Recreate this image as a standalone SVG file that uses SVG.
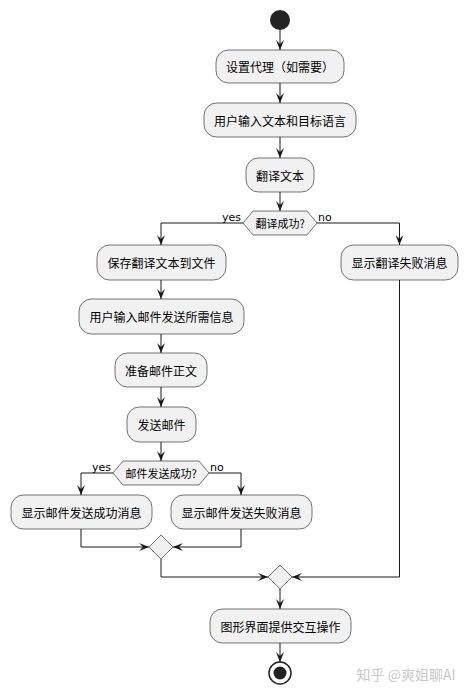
<svg xmlns="http://www.w3.org/2000/svg" width="467" height="695" viewBox="0 0 467 695">
<style>
.n{fill:#F1F1F1;stroke:#181818;stroke-width:0.6}
.t{font-family:"Noto Sans CJK SC","Liberation Sans",sans-serif;font-size:12px;fill:#000;text-anchor:middle;dominant-baseline:central}
.d{font-size:11px}
.l{font-family:"DejaVu Sans","Liberation Sans",sans-serif;font-size:11px;fill:#000}
.e{fill:none;stroke:#181818;stroke-width:1}
</style>
<defs>
<marker id="a" viewBox="0 0 10 8" refX="10" refY="4" markerWidth="10" markerHeight="8" markerUnits="userSpaceOnUse" orient="auto">
<path d="M0,0 L10,4 L0,8 L4,4 Z" fill="#181818"/>
</marker>
</defs>
<rect width="467" height="695" fill="#fff"/>
<g id="edges">
<path class="e" d="M280,30 V50" marker-end="url(#a)"/>
<path class="e" d="M280,83 V103" marker-end="url(#a)"/>
<path class="e" d="M280,137 V158" marker-end="url(#a)"/>
<path class="e" d="M280,192 V211" marker-end="url(#a)"/>
<path class="e" d="M243,223 H161 V245" marker-end="url(#a)"/>
<path class="e" d="M317,223 H399.5 V245" marker-end="url(#a)"/>
<path class="e" d="M161,280 V299" marker-end="url(#a)"/>
<path class="e" d="M161,334 V353" marker-end="url(#a)"/>
<path class="e" d="M161,387 V407" marker-end="url(#a)"/>
<path class="e" d="M161,442 V461" marker-end="url(#a)"/>
<path class="e" d="M113,473 H81 V495" marker-end="url(#a)"/>
<path class="e" d="M209,473 H241 V495" marker-end="url(#a)"/>
<path class="e" d="M81,529 V547 H149" marker-end="url(#a)"/>
<path class="e" d="M241,529 V547 H173" marker-end="url(#a)"/>
<path class="e" d="M161,559 V577 H268" marker-end="url(#a)"/>
<path class="e" d="M399.5,280 V577 H292" marker-end="url(#a)"/>
<path class="e" d="M280,589 V609" marker-end="url(#a)"/>
<path class="e" d="M280,643 V662" marker-end="url(#a)"/>
<text class="l" x="222" y="221">yes</text>
<text class="l" x="318" y="221">no</text>
<text class="l" x="92" y="471">yes</text>
<text class="l" x="210" y="471">no</text>
</g>
<g id="start"><circle cx="280" cy="20" r="10" fill="#222"/></g>
<g id="n1"><rect class="n" x="216" y="50" width="128" height="33" rx="12.5"/><text class="t" x="280" y="66.5">设置代理（如需要）</text></g>
<g id="n2"><rect class="n" x="204" y="103" width="152" height="34" rx="12.5"/><text class="t" x="280" y="120">用户输入文本和目标语言</text></g>
<g id="n3"><rect class="n" x="246" y="158" width="68" height="34" rx="12.5"/><text class="t" x="280" y="175">翻译文本</text></g>
<g id="d1"><polygon class="n" points="243,223 253,211 307,211 317,223 307,235 253,235"/><text class="t d" x="280" y="223">翻译成功?</text></g>
<g id="n4"><rect class="n" x="97" y="245" width="129" height="35" rx="12.5"/><text class="t" x="161.5" y="262.5">保存翻译文本到文件</text></g>
<g id="n5"><rect class="n" x="341" y="245" width="117" height="35" rx="12.5"/><text class="t" x="399.5" y="262.5">显示翻译失败消息</text></g>
<g id="n6"><rect class="n" x="79" y="299" width="165" height="35" rx="12.5"/><text class="t" x="161.5" y="316.5">用户输入邮件发送所需信息</text></g>
<g id="n7"><rect class="n" x="115" y="353" width="92" height="34" rx="12.5"/><text class="t" x="161" y="370">准备邮件正文</text></g>
<g id="n8"><rect class="n" x="127" y="407" width="69" height="35" rx="12.5"/><text class="t" x="161.5" y="424.5">发送邮件</text></g>
<g id="d2"><polygon class="n" points="113,473 123,461 199,461 209,473 199,485 123,485"/><text class="t d" x="161" y="473">邮件发送成功?</text></g>
<g id="n9"><rect class="n" x="11" y="495" width="141" height="34" rx="12.5"/><text class="t" x="81.5" y="512">显示邮件发送成功消息</text></g>
<g id="n10"><rect class="n" x="171" y="495" width="141" height="34" rx="12.5"/><text class="t" x="241.5" y="512">显示邮件发送失败消息</text></g>
<g id="m1"><polygon class="n" points="149,547 161,535 173,547 161,559"/></g>
<g id="m2"><polygon class="n" points="268,577 280,565 292,577 280,589"/></g>
<g id="n11"><rect class="n" x="210" y="609" width="141" height="34" rx="12.5"/><text class="t" x="280.5" y="626">图形界面提供交互操作</text></g>
<g id="end"><circle cx="280" cy="673" r="11" fill="none" stroke="#222" stroke-width="1.5"/><circle cx="280" cy="673" r="6.5" fill="#222"/></g>
<text x="406" y="680" font-family="Noto Sans CJK SC,sans-serif" font-size="14" fill="#c8c8c8" text-anchor="middle">知乎 @爽姐聊AI</text>
</svg>
